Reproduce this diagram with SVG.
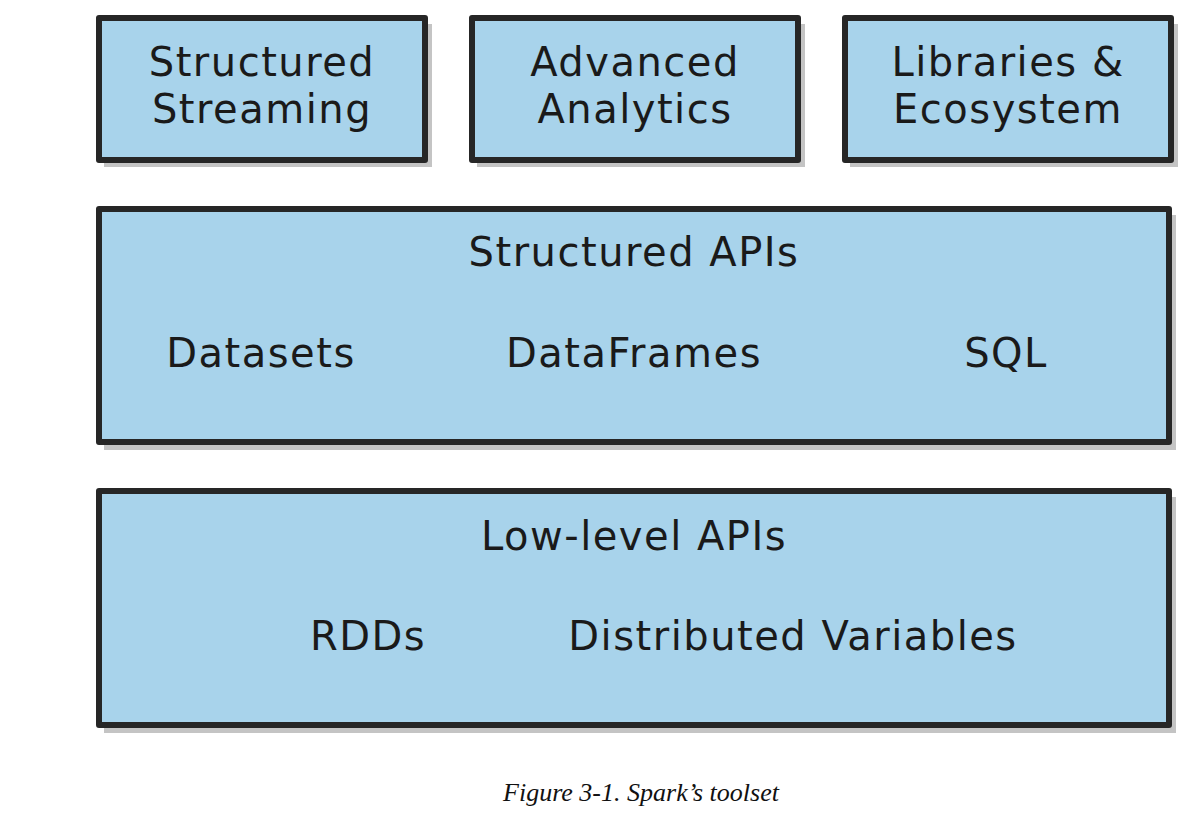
<svg xmlns="http://www.w3.org/2000/svg" width="1200" height="832" viewBox="0 0 1200 832">
<style>
.box{fill:#a8d3eb;stroke:#262626;stroke-width:6;stroke-linejoin:round}
.sh{fill:#8a8a8a;opacity:0.5}
.t{font-family:"Comic Sans MS","DejaVu Sans",sans-serif;font-size:40px;letter-spacing:1.5px;fill:#1a1a1a;text-anchor:middle}
.cap{font-family:"Liberation Serif",serif;font-style:italic;font-size:26px;fill:#111;text-anchor:middle}
</style>
<rect width="1200" height="832" fill="#fff"/>
<g id="structured-streaming">
<rect class="sh" x="104" y="24" width="328" height="143"/>
<rect class="box" x="99" y="18" width="326" height="142"/>
<text class="t" x="262" y="76">Structured</text><text class="t" x="262" y="123">Streaming</text>
</g>
<g id="advanced-analytics">
<rect class="sh" x="477" y="24" width="328" height="143"/>
<rect class="box" x="472" y="18" width="326" height="142"/>
<text class="t" x="635" y="76">Advanced</text><text class="t" x="635" y="123">Analytics</text>
</g>
<g id="libraries-ecosystem">
<rect class="sh" x="850" y="24" width="328" height="143"/>
<rect class="box" x="845" y="18" width="326" height="142"/>
<text class="t" x="1008" y="76">Libraries &amp;</text><text class="t" x="1008" y="123">Ecosystem</text>
</g>
<g id="structured-apis">
<rect class="sh" x="104" y="215" width="1072" height="235"/>
<rect class="box" x="99" y="209" width="1070" height="233"/>
<text class="t" x="634" y="266">Structured APIs</text>
<text class="t" x="261" y="367">Datasets</text>
<text class="t" x="634" y="367">DataFrames</text>
<text class="t" x="1006" y="367">SQL</text>
</g>
<g id="low-level-apis">
<rect class="sh" x="104" y="497" width="1072" height="236"/>
<rect class="box" x="99" y="491" width="1070" height="234"/>
<text class="t" x="634" y="550">Low-level APIs</text>
<text class="t" x="368" y="650">RDDs</text>
<text class="t" x="793" y="650">Distributed Variables</text>
</g>
<g id="connectors"></g>
<text class="cap" x="641" y="801">Figure 3-1. Spark’s toolset</text>
</svg>
